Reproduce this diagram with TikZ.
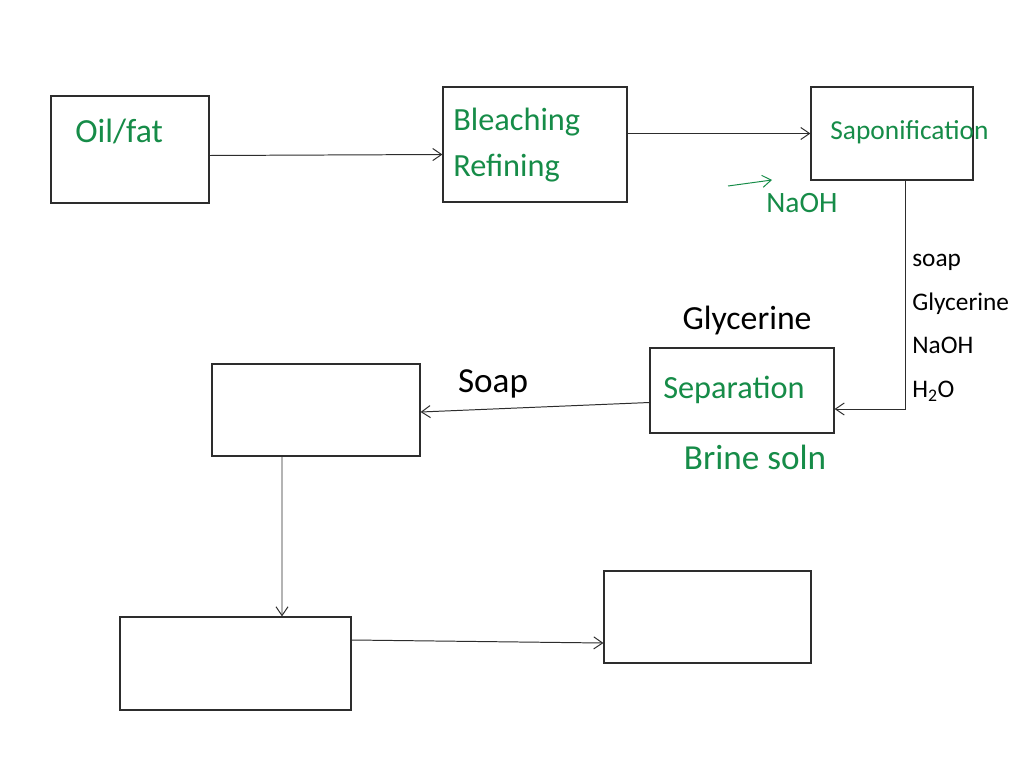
\documentclass[tikz,border=0pt]{standalone}
\usepackage{fontspec}
\setmainfont{Carlito}
\usepackage{xcolor}
\usepackage{tikz}
\usetikzlibrary{arrows.meta, positioning, calc}
\definecolor{handgreen}{RGB}{22,140,72}
\definecolor{linegray}{RGB}{45,45,45}
\begin{document}
\begin{tikzpicture}[
    x=0.025cm, y=-0.025cm,
    box/.style={rectangle, draw=linegray, line width=0.8pt, inner sep=0pt},
    arrow/.style={-{Straight Barb[length=2.2mm, width=3mm]}, line width=0.7pt, draw=linegray},
    step label/.style={text=handgreen, font=\fontsize{23}{27}\selectfont, inner sep=0pt},
    flow label/.style={text=black, font=\fontsize{24}{28}\selectfont, inner sep=0pt},
]
\useasboundingbox[fill=white] (0,0) rectangle (1024,768);

% Nodes
\node[box, minimum width=3.95cm, minimum height=2.675cm] (oilfat) at (130,149.5) {};
\node[box, minimum width=4.6cm, minimum height=2.875cm] (bleach) at (535,144.5) {};
\node[box, minimum width=4.05cm, minimum height=2.325cm] (sapon) at (892,133.5) {};
\node[box, minimum width=4.6cm, minimum height=2.125cm] (separ) at (742,390.5) {};
\node[box, minimum width=5.2cm, minimum height=2.3cm] (soapbox) at (316,410) {};
\node[box, minimum width=5.775cm, minimum height=2.325cm] (lowbox) at (235.5,663.5) {};
\node[box, minimum width=5.175cm, minimum height=2.3cm] (endbox) at (707.5,617) {};

% Labels
\node[step label, anchor=west, font=\fontsize{24}{28}\selectfont] (oiltext) at (75,132) {Oil/fat};
\node[step label, anchor=west, align=left, font=\fontsize{23}{33}\selectfont] (bleachtext) at (453,145) {Bleaching\\Refining};
\node[step label, anchor=west, font=\fontsize{19.5}{23}\selectfont] (sapontext) at (830,132) {Saponification};
\node[step label, anchor=west, font=\fontsize{21}{25}\selectfont] (naoh) at (766,203) {NaOH};
\node[step label, anchor=west] (separtext) at (663,390) {Separation};
\node[step label, font=\fontsize{25}{29}\selectfont] (brine) at (755,457) {Brine soln};
\node[flow label] (glyc) at (747,321) {Glycerine};
\node[flow label, font=\fontsize{25}{29}\selectfont] (soaptext) at (493,384) {Soap};
\node[flow label, anchor=north west, align=left, font=\fontsize{18}{31}\selectfont] (mixture) at (912,254) {soap\\Glycerine\\NaOH\\H\textsubscript{2}O};

% Arrows
\draw[arrow] ($(oilfat.east)+(0,6)$) -- ($(bleach.west)+(0,10)$);
\draw[arrow] ($(bleach.east)+(0,-11)$) -- (sapon.west);
\coordinate (naohtail) at (728,186);
\coordinate (naohhead) at (772,180);
\draw[arrow, draw=handgreen] (naohtail) -- (naohhead);
\draw[arrow] ($(sapon.south)+(13,0)$) |- ($(separ.east)+(0,18.5)$);
\draw[arrow] ($(separ.west)+(0,12)$) -- ($(soapbox.east)+(0,2)$);
\draw[arrow] ($(soapbox.south)+(-34,0)$) -- ($(lowbox.north)+(46.5,0)$);
\draw[arrow] ($(lowbox.east)+(0,-23.5)$) -- ($(endbox.west)+(0,26)$);

\end{tikzpicture}
\end{document}
